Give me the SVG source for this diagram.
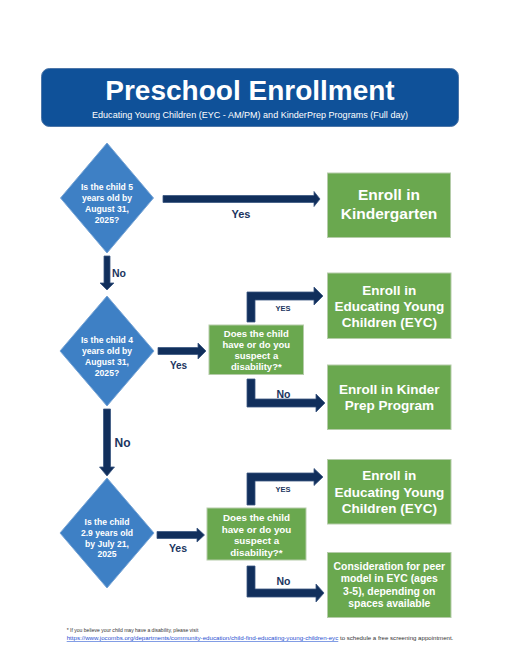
<svg xmlns="http://www.w3.org/2000/svg" width="512" height="663" viewBox="0 0 512 663">
<style>
text{font-family:"Liberation Sans",Arial,sans-serif;}
.hdr{fill:#0f5199;stroke:#4d76a8;stroke-width:1;}
.dia{fill:#3e80c5;stroke:#78a5d6;stroke-width:1;}
.box{fill:#6aa84f;stroke:#b5cca9;stroke-width:1;}
.arr{fill:#112f5c;stroke:#3b5781;stroke-width:0.8;}
.dt{fill:#fff;font-weight:bold;font-size:8.6px;text-anchor:middle;}
.qt{fill:#fff;font-weight:bold;font-size:9.5px;text-anchor:middle;}
.bt{fill:#fff;font-weight:bold;font-size:13.5px;text-anchor:middle;}
.kg{font-size:15.5px;}
.pr{font-size:10.4px;}
.q2{font-size:9.8px;}
.lbl{fill:#1b3560;font-weight:bold;text-anchor:middle;}
.st{text-anchor:start;}
.fn{fill:#333;font-size:5.6px;}
.lnk{fill:#1f4fd0;font-size:5.6px;text-decoration:underline;}
</style>
<rect width="512" height="663" fill="#fff"/>
<g id="header">
<rect class="hdr" x="41.5" y="68.5" width="417" height="58" rx="8"/>
<text x="250" y="100" fill="#fff" font-weight="bold" font-size="28" text-anchor="middle">Preschool Enrollment</text>
<text x="250" y="118" fill="#fff" font-size="8.6" text-anchor="middle" textLength="316" lengthAdjust="spacingAndGlyphs">Educating Young Children (EYC - AM/PM) and KinderPrep Programs (Full day)</text>
</g>
<g id="connectors">
<polygon class="arr" points="163,195.5 314,195.5 314,191.5 320,199 314,206.5 314,202.5 163,202.5"/>
<polygon class="arr" points="104,256 110,256 110,283 114,283 107,290 100,283 104,283"/>
<polygon class="arr" points="158,347.5 198,347.5 198,343 206,351 198,359 198,354.5 158,354.5"/>
<polygon class="arr" points="103.5,409 110.5,409 110.5,467 114.5,467 107,476 99.5,467 103.5,467"/>
<polygon class="arr" points="157,531.5 197,531.5 197,528 204.5,535 197,542 197,538.5 157,538.5"/>
<polygon class="arr" points="247,322 247,292 314,292 314,287 323,296 314,305 314,300 255,300 255,322"/>
<polygon class="arr" points="247,379 255,379 255,399 316,399 316,394 325,403 316,412 316,407 247,407"/>
<polygon class="arr" points="247,505 247,473 314,473 314,468.5 323,477 314,485.5 314,481 255,481 255,505"/>
<polygon class="arr" points="247,566 255,566 255,589 316,589 316,584 324,593 316,602 316,597 247,597"/>
<text class="lbl" x="241" y="218" font-size="11">Yes</text>
<text class="lbl st" x="112" y="276.5" font-size="10.5">No</text>
<text class="lbl" x="178.5" y="368.5" font-size="10">Yes</text>
<text class="lbl" x="283" y="310.5" font-size="7.5">YES</text>
<text class="lbl" x="283.5" y="398" font-size="10.5">No</text>
<text class="lbl st" x="114.5" y="446.5" font-size="12">No</text>
<text class="lbl" x="178" y="552" font-size="10.5">Yes</text>
<text class="lbl" x="283" y="492" font-size="7.5">YES</text>
<text class="lbl" x="283.5" y="585" font-size="10.5">No</text>
</g>
<g id="q1">
<polygon class="dia" points="107,143 153.5,198 107,253 60.5,198"/>
<text class="dt" x="107" y="189.5">Is the child 5</text>
<text class="dt" x="107" y="200.5">years old by</text>
<text class="dt" x="107" y="212">August 31,</text>
<text class="dt" x="107" y="223">2025?</text>
</g>
<g id="kindergarten">
<rect class="box" x="327.5" y="173" width="123" height="64.5"/>
<text class="bt kg" x="389" y="200">Enroll in</text>
<text class="bt kg" x="389" y="218.5">Kindergarten</text>
</g>
<g id="q2">
<polygon class="dia" points="107,296 154,351 107,406 60,351"/>
<text class="dt" x="107" y="343">Is the child 4</text>
<text class="dt" x="107" y="354">years old by</text>
<text class="dt" x="107" y="365">August 31,</text>
<text class="dt" x="107" y="376">2025?</text>
</g>
<g id="d1">
<rect class="box" x="209" y="325" width="94.5" height="49.5"/>
<text class="qt" x="256.3" y="336.5">Does the child</text>
<text class="qt" x="256.3" y="347.5">have or do you</text>
<text class="qt" x="256.3" y="358.5">suspect a</text>
<text class="qt" x="256.3" y="369.5">disability?*</text>
</g>
<g id="eyc1">
<rect class="box" x="327.5" y="273" width="123.5" height="65.5"/>
<text class="bt" x="389.3" y="295">Enroll in</text>
<text class="bt" x="389.3" y="311">Educating Young</text>
<text class="bt" x="389.3" y="327">Children (EYC)</text>
</g>
<g id="kinderprep">
<rect class="box" x="327.5" y="365" width="123.5" height="64.5"/>
<text class="bt" x="389.3" y="393.5">Enroll in Kinder</text>
<text class="bt" x="389.3" y="410">Prep Program</text>
</g>
<g id="q3">
<polygon class="dia" points="107,478 154,533 107,588 60,533"/>
<text class="dt" x="107" y="524.5">Is the child</text>
<text class="dt" x="107" y="535.5">2.9 years old</text>
<text class="dt" x="107" y="546.5">by July 21,</text>
<text class="dt" x="107" y="556.5">2025</text>
</g>
<g id="d2">
<rect class="box" x="207" y="508" width="99" height="52"/>
<text class="qt q2" x="256.5" y="521">Does the child</text>
<text class="qt q2" x="256.5" y="532.5">have or do you</text>
<text class="qt q2" x="256.5" y="544">suspect a</text>
<text class="qt q2" x="256.5" y="555.5">disability?*</text>
</g>
<g id="eyc2">
<rect class="box" x="327.5" y="459.5" width="123.5" height="64.5"/>
<text class="bt" x="389.3" y="480">Enroll in</text>
<text class="bt" x="389.3" y="496.5">Educating Young</text>
<text class="bt" x="389.3" y="513">Children (EYC)</text>
</g>
<g id="peer">
<rect class="box" x="327.5" y="552.5" width="123.5" height="65"/>
<text class="bt pr" x="389.3" y="569.5">Consideration for peer</text>
<text class="bt pr" x="389.3" y="582">model in EYC (ages</text>
<text class="bt pr" x="389.3" y="594.5">3-5), depending on</text>
<text class="bt pr" x="389.3" y="607">spaces available</text>
</g>
<g id="footnote">
<text class="fn" x="66.7" y="632.3" textLength="131.6" lengthAdjust="spacingAndGlyphs">* If you believe your child may have a disability, please visit</text>
<text class="lnk" x="66.7" y="640.3" textLength="271.6" lengthAdjust="spacingAndGlyphs">https://www.jocombs.org/departments/community-education/child-find-educating-young-children-eyc</text>
<text class="fn" x="340" y="640.3" textLength="113.3" lengthAdjust="spacingAndGlyphs">to schedule a free screening appointment.</text>
</g>
</svg>
